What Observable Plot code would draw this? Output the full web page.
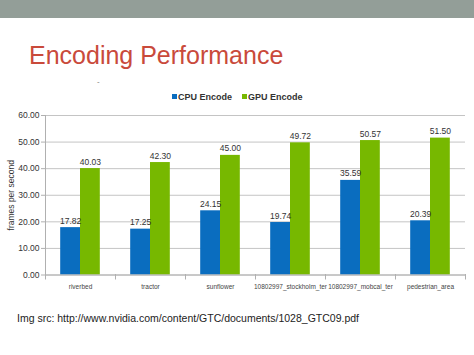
<!DOCTYPE html>
<html>
<head>
<meta charset="utf-8">
<script src="https://cdn.jsdelivr.net/npm/d3@7"></script>
<script src="https://cdn.jsdelivr.net/npm/@observablehq/plot@0.6"></script>
<style>
  html, body { margin: 0; padding: 0; background: #fff; width: 474px; height: 355px; overflow: hidden; position: relative; font-family: "Liberation Sans", Arial, sans-serif; }
  #band { position: absolute; left: 0; top: 0; width: 474px; height: 18px; background: #939e98; }
  #title { position: absolute; left: 29px; top: 43px; font-size: 25px; color: #c94a3b; white-space: nowrap; line-height: 1; }
  #dash { position: absolute; left: 97px; top: 78px; font-size: 8px; color: #777; line-height: 1; }
  #legend { position: absolute; left: 172px; top: 92px; font-size: 9px; font-weight: bold; color: #333; white-space: nowrap; line-height: 10px; }
  #legend span.sw { display: inline-block; width: 5px; height: 5px; margin-right: 1px; vertical-align: 1px; }
  #legend span.item { margin-right: 10px; }
  #chart { position: absolute; left: 0; top: 100px; }
  #caption { position: absolute; left: 17px; top: 313px; font-size: 10.5px; color: #222; white-space: nowrap; line-height: 1; }
</style>
</head>
<body>
<div id="band"></div>
<div id="title">Encoding Performance</div>
<div id="dash">-</div>
<div id="legend"></div>
<div id="chart"></div>
<div id="caption">Img src: http://www.nvidia.com/content/GTC/documents/1028_GTC09.pdf</div>
<script>
const categories = ["riverbed", "tractor", "sunflower", "10802997_stockholm_ter", "10802997_mobcal_ter", "pedestrian_area"];
const series = ["CPU Encode", "GPU Encode"];
const cpuEncode = [17.82, 17.25, 24.15, 19.74, 35.59, 20.39];
const gpuEncode = [40.03, 42.30, 45.00, 49.72, 50.57, 51.50];
const yTicks = [0, 10, 20, 30, 40, 50, 60];
const colors = ["#0a6dbf", "#77b800"];

const table = [];
categories.forEach((c, i) => {
  table.push({category: c, series: series[0], value: cpuEncode[i]});
  table.push({category: c, series: series[1], value: gpuEncode[i]});
});

const legend = document.getElementById("legend");
series.forEach((s, i) => {
  const item = document.createElement("span");
  item.className = "item";
  item.innerHTML = `<span class="sw" style="background:${colors[i]}"></span>${s}`;
  legend.appendChild(item);
});

const fmt = d3.format(".2f");
const chart = Plot.plot({
  width: 474,
  height: 200,
  marginTop: 15,
  marginBottom: 25.5,
  marginLeft: 43,
  marginRight: 7,
  style: {fontFamily: "Liberation Sans, Arial, sans-serif", fontSize: "8px", color: "#333", background: "transparent", overflow: "visible"},
  fx: {domain: categories, padding: 0, label: null},
  x: {domain: series, paddingInner: 0, paddingOuter: 0.767, axis: null, round: false},
  y: {domain: [0, 60], label: null},
  color: {domain: series, range: colors},
  marks: [
    Plot.gridY(yTicks, {stroke: "#c4c4c4", strokeOpacity: 1}),
    Plot.barY(table, {fx: "category", x: "series", y: "value", fill: "series"}),
    Plot.text(table, {fx: "category", x: "series", y: "value", text: d => fmt(d.value), dy: -4, lineAnchor: "bottom", fill: "#333", fontSize: 8.5}),
    Plot.frame({anchor: "left", stroke: "#b0b0b0", strokeOpacity: 1, insetTop: 159, insetBottom: -4}),
    Plot.frame({anchor: "right", stroke: "#b0b0b0", strokeOpacity: 1, insetTop: 159, insetBottom: -4, facetAnchor: "right"}),
    Plot.frame({anchor: "left", stroke: "#b0b0b0", strokeOpacity: 1, facetAnchor: "left"}),
    Plot.ruleY([0], {stroke: "#b0b0b0"}),
    Plot.axisY(yTicks, {tickFormat: fmt, tickSize: 4, tickPadding: 2, stroke: "#b0b0b0", fill: "#333", fontSize: 8.5, label: "frames per second", labelAnchor: "center", labelArrow: "none", labelOffset: 38}),
    Plot.axisFx({anchor: "bottom", tickSize: 0, tickPadding: 9, fontSize: 6.5, fill: "#444", label: null})
  ]
});
document.getElementById("chart").appendChild(chart);
</script>
</body>
</html>
